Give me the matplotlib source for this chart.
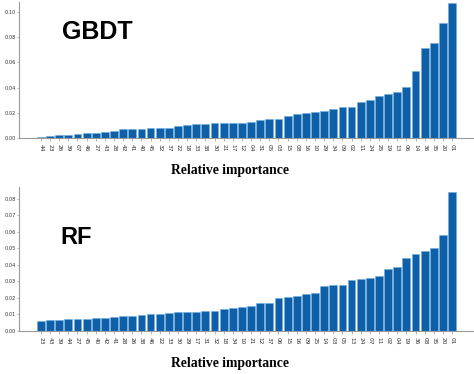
import matplotlib.pyplot as plt

# feature codes and importances, sorted ascending as in the figure
gbdt_labels = ["44", "23", "26", "39", "07", "46", "27", "43", "28", "42",
               "41", "40", "45", "32", "37", "22", "18", "33", "38", "30",
               "21", "17", "12", "04", "31", "05", "03", "15", "08", "16",
               "10", "29", "34", "09", "02", "11", "24", "25", "19", "13",
               "06", "14", "36", "35", "20", "01"]
gbdt_values = [0.0008, 0.0013, 0.0024, 0.0026, 0.0031, 0.0039, 0.0039, 0.0045, 0.0058, 0.0068,
               0.0068, 0.0073, 0.0079, 0.0079, 0.0079, 0.0092, 0.0105, 0.0110, 0.0113, 0.0118,
               0.0118, 0.0120, 0.0120, 0.0131, 0.0144, 0.0147, 0.0152, 0.0178, 0.0188, 0.0202,
               0.0209, 0.0217, 0.0230, 0.0243, 0.0243, 0.0285, 0.0298, 0.0330, 0.0348, 0.0366,
               0.0403, 0.0529, 0.0712, 0.0754, 0.0916, 0.1070]

rf_labels = ["23", "43", "39", "44", "27", "45", "40", "42", "41", "28",
             "26", "38", "46", "22", "33", "30", "29", "17", "31", "32",
             "18", "34", "10", "21", "12", "37", "06", "15", "16", "09",
             "25", "14", "03", "05", "13", "24", "07", "11", "02", "04",
             "19", "36", "08", "35", "20", "01"]
rf_values = [0.0062, 0.0064, 0.0068, 0.0074, 0.0074, 0.0074, 0.0080, 0.0080, 0.0086, 0.0090,
             0.0092, 0.0098, 0.0104, 0.0104, 0.0110, 0.0114, 0.0114, 0.0116, 0.0118, 0.0122,
             0.0134, 0.0136, 0.0144, 0.0154, 0.0168, 0.0172, 0.0198, 0.0206, 0.0210, 0.0226,
             0.0232, 0.0274, 0.0278, 0.0280, 0.0306, 0.0314, 0.0320, 0.0332, 0.0374, 0.0388,
             0.0442, 0.0464, 0.0482, 0.0502, 0.0578, 0.0840]

W, H = 474, 374
fig = plt.figure(figsize=(W / 100, H / 100), dpi=100)

bar_color = "#0e5ea8"
edge_color = "#6aaee0"
axis_grey = "#9a9a9a"


def draw_panel(rect, labels, values, ymax, yticks, name, name_xy, name_size):
    ax = fig.add_axes(rect)
    x = range(len(values))
    ax.bar(x, values, width=0.86, color=bar_color, edgecolor=edge_color, linewidth=0.4)
    ax.set_xlim(-2.4, len(values) + 1.4)
    ax.set_ylim(0, ymax)
    ax.set_xticks(list(x))
    ax.set_xticklabels(labels, rotation=270, fontsize=4.2, color="#333333")
    ax.set_yticks(yticks)
    ax.set_yticklabels(["%.2f" % t for t in yticks], fontsize=3.6, color="#333333")
    ax.tick_params(axis="both", length=2, width=0.5, color=axis_grey, pad=2)
    ax.tick_params(axis="y", length=1.5, pad=1)
    for s in ["top", "right"]:
        ax.spines[s].set_visible(False)
    for s in ["left", "bottom"]:
        ax.spines[s].set_color(axis_grey)
        ax.spines[s].set_linewidth(0.8)
    # the label sits a bit left of the axes centre in the original
    ax.set_xlabel("Relative importance", family="Liberation Serif", fontweight="bold",
                  fontsize=9.8, labelpad=9, x=(230 - 19) / 455)
    fig.text(name_xy[0] / W, 1 - name_xy[1] / H, name, family="Liberation Sans",
             fontweight="bold", fontsize=name_size, ha="center", va="center")
    return ax


# axes rectangles in pixels: left edge leaves room for the tiny y labels
draw_panel([19 / W, 1 - 138 / H, 455 / W, 136 / H], gbdt_labels, gbdt_values,
           0.108, [0.0, 0.02, 0.04, 0.06, 0.08, 0.10], "GBDT", (97, 32), 18)
draw_panel([19 / W, 1 - 331 / H, 455 / W, 144 / H], rf_labels, rf_values,
           0.087, [0.0, 0.01, 0.02, 0.03, 0.04, 0.05, 0.06, 0.07, 0.08], "RF", (76, 238), 17)

fig.savefig("out.png", dpi=100)
